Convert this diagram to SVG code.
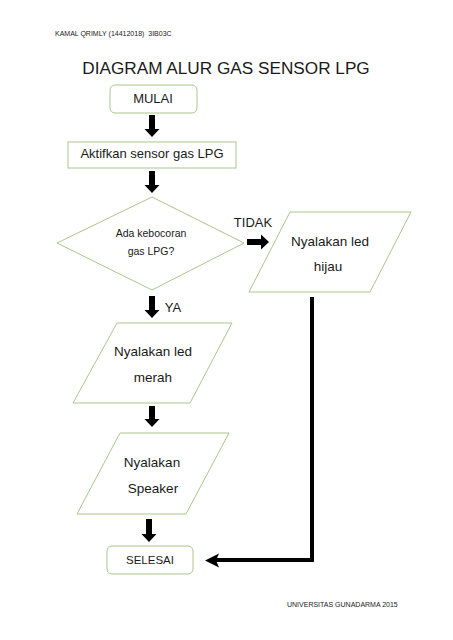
<svg xmlns="http://www.w3.org/2000/svg" width="453" height="640" viewBox="0 0 453 640">
<style>
  text { font-family: "Liberation Sans", Arial, sans-serif; fill: #1a1a1a; text-anchor: middle; }
  .shape { fill: #ffffff; stroke: #a9c68d; stroke-width: 1; }
  .blk { fill: #000000; }
  .line { fill: none; stroke: #000000; stroke-width: 4; }
  .t13 { font-size: 13px; }
  .t135 { font-size: 13.5px; }
  .small { font-size: 7px; text-anchor: start; white-space: pre; }
</style>
<rect width="453" height="640" fill="#ffffff"/>
<text class="small" x="55" y="36" xml:space="preserve">KAMAL QRIMLY (14412018)  3IB03C</text>
<text x="226" y="74" font-size="17.2">DIAGRAM ALUR GAS SENSOR LPG</text>
<text class="small" x="287" y="607">UNIVERSITAS GUNADARMA 2015</text>

<g id="mulai">
  <rect class="shape" x="110" y="85" width="87" height="28" rx="5"/>
  <text class="t13" x="153" y="103">MULAI</text>
</g>
<g id="aktifkan">
  <rect class="shape" x="68" y="142" width="168" height="26"/>
  <text class="t13" x="152" y="158">Aktifkan sensor gas LPG</text>
</g>
<g id="cek">
  <polygon class="shape" points="152,197 244,243 152,290 57,243"/>
  <text x="151" y="237" font-size="10.5">Ada kebocoran</text>
  <text x="151" y="255" font-size="10.5">gas LPG?</text>
</g>
<g id="hijau">
  <polygon class="shape" points="290,212 411,212 370,292 249,292"/>
  <text class="t135" x="330" y="246">Nyalakan led</text>
  <text class="t135" x="328" y="271">hijau</text>
</g>
<g id="merah">
  <polygon class="shape" points="117,323 232,323 190,403 73,403"/>
  <text class="t135" x="153" y="356">Nyalakan led</text>
  <text class="t135" x="153" y="382">merah</text>
</g>
<g id="speaker">
  <polygon class="shape" points="120,433 229,433 186,514 77,514"/>
  <text class="t135" x="152" y="467">Nyalakan</text>
  <text class="t135" x="153" y="493">Speaker</text>
</g>
<g id="selesai">
  <rect class="shape" x="107" y="546" width="86" height="28" rx="5"/>
  <text x="150" y="564" font-size="11.5">SELESAI</text>
</g>

<g id="connectors">
  <path class="blk" d="M149,115 H155 V129 H159.5 L152,137 L144.5,129 H149 Z"/>
  <path class="blk" d="M149,171 H155 V185 H159.5 L152,193 L144.5,185 H149 Z"/>
  <path class="blk" d="M149,296 H155 V310 H159.5 L152,318 L144.5,310 H149 Z"/>
  <path class="blk" d="M149,406 H155 V419 H159.5 L152,427 L144.5,419 H149 Z"/>
  <path class="blk" d="M146,519 H152 V534 H156.5 L149,542 L141.5,534 H146 Z"/>
  <path class="blk" d="M247,239 H261 V234.5 L269,242 L261,249.5 V245 H247 Z"/>
  <polyline class="line" points="312,297 312,560 216,560"/>
  <path class="blk" d="M205,560.5 L219,553.5 L216,560.5 L219,567.5 Z"/>
  <text class="t13" x="253" y="227">TIDAK</text>
  <text class="t13" x="173" y="312">YA</text>
</g>
</svg>
